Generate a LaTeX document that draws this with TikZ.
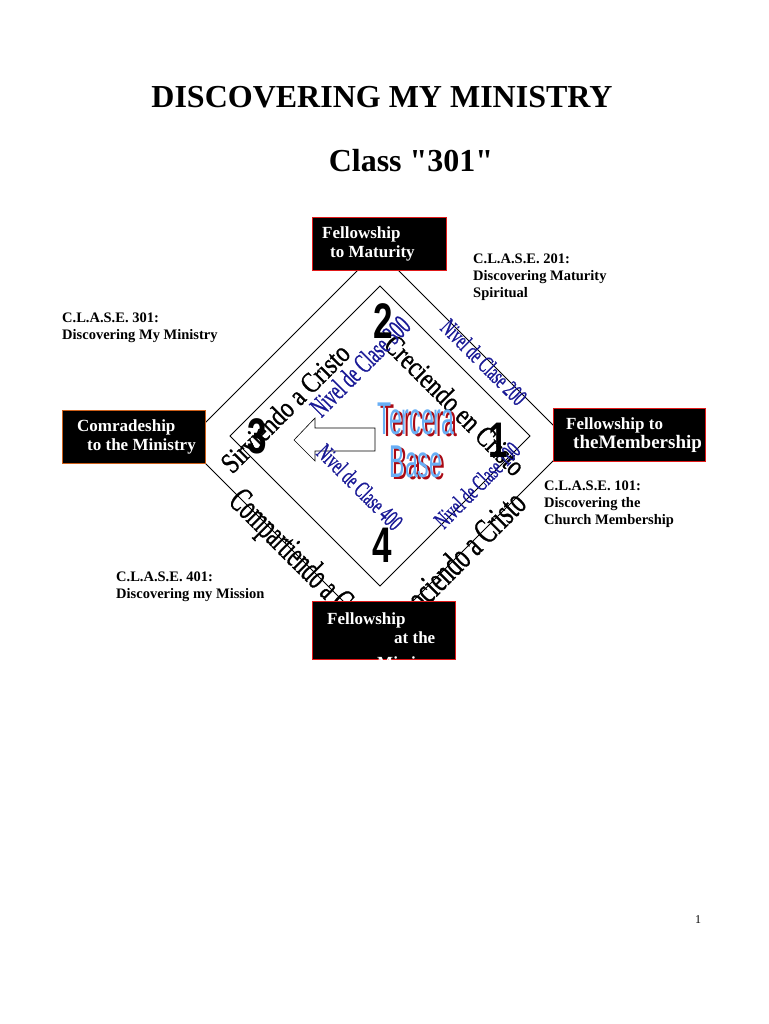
\documentclass[tikz,border=0pt]{standalone}
\usepackage{fontspec}
\setmainfont{Liberation Serif}
\setsansfont{Liberation Sans}
\newfontfamily\plainserif{Liberation Serif}
\newfontfamily\heavyserif[FakeBold=1]{Liberation Serif}
\newfontfamily\numfont[FakeStretch=0.7]{Liberation Sans}
\newfontfamily\wordfont[FakeStretch=0.5]{Liberation Sans}
\usepackage{tikz}
\usetikzlibrary{positioning}
\definecolor{boxred}{RGB}{225,25,25}
\definecolor{boxorange}{RGB}{205,95,25}
\definecolor{levelblue}{RGB}{25,25,150}
\definecolor{wordblue}{RGB}{105,175,245}
\definecolor{wordred}{RGB}{170,10,20}
\tikzstyle{blackbox} = [rectangle, draw=boxred, line width=1.2pt, fill=black, anchor=north west, inner sep=0pt]
\tikzstyle{boxtext} = [text=white, font=\fontsize{17}{19.5}\selectfont\bfseries, align=left, inner sep=0pt]
\tikzstyle{clase} = [font=\fontsize{14.5}{17}\selectfont\bfseries, align=left, anchor=north west, inner sep=0pt]
\tikzstyle{band} = [font=\heavyserif\fontsize{29}{31}\selectfont, inner sep=0pt, xscale=0.8]
\tikzstyle{wideband} = [font=\heavyserif\fontsize{36}{38}\selectfont, inner sep=0pt, xscale=0.6]
\tikzstyle{level} = [font=\heavyserif\fontsize{24}{26}\selectfont, text=levelblue, inner sep=0pt, xscale=0.6]
\tikzstyle{basenum} = [font=\numfont\bfseries\fontsize{50}{52}\selectfont, inner sep=0pt]
\tikzstyle{wordart} = [font=\wordfont\fontsize{46}{43}\selectfont, align=center, inner sep=0pt]
\tikzstyle{diamondline} = [draw=black, line width=0.8pt]
\begin{document}
\begin{tikzpicture}[x=1pt, y=-1pt]
    \useasboundingbox (0,0) rectangle (768,1024);

    % Title
    \node[font=\fontsize{32}{36}\selectfont\bfseries] (title) at (382,97) {DISCOVERING MY MINISTRY};
    \node[font=\plainserif\fontsize{32}{36}\selectfont\bfseries] (classno) at (411,161) {Class "301"};

    % Diamonds
    \coordinate (outtop) at (378,250);
    \coordinate (outright) at (571,443);
    \coordinate (outbot) at (378,636);
    \coordinate (outleft) at (185,443);
    \coordinate (intop) at (380,286);
    \coordinate (inright) at (530,436);
    \coordinate (inbot) at (380,586);
    \coordinate (inleft) at (230,436);
    \draw[diamondline] (outtop) -- (outright) -- (outbot) -- (outleft) -- cycle;
    \draw[diamondline] (intop) -- (inright) -- (inbot) -- (inleft) -- cycle;

    % Arrow to third base
    \draw[fill=white, line width=0.6pt] (294,440) -- (315,418) -- (315,428) -- (375,428)
        -- (375,451) -- (315,451) -- (315,461) -- cycle;

    % Band texts
    \node[rotate=45, band] (serving) at (285,408) {Sirviendo a Cristo};
    \node[rotate=-45, band] (growing) at (455,405) {Creciendo en Cristo};
    \node[rotate=-45, wideband] (sharing) at (303,566) {Compartiendo a Cristo};
    \node[rotate=45, wideband, xscale=1.07] (knowing) at (452,564) {Conociendo a Cristo};

    % Levels
    \node[rotate=-45, level] (lvltwo) at (484,362) {Nivel de Clase 200};
    \node[rotate=45, level] (lvlone) at (477,485) {Nivel de Clase 100};
    \node[rotate=-45, level] (lvlfour) at (360,487) {Nivel de Clase 400};
    \node[rotate=45, level, font=\heavyserif\fontsize{28}{30}\selectfont] (lvlthree) at (360,366) {Nivel de Clase 300};

    % Base numbers
    \node[basenum] (numtwo) at (383,321) {2};
    \node[basenum] (numone) at (498,440) {1};
    \node[basenum] (numthree) at (257,436) {3};
    \node[basenum] (numfour) at (382,545) {4};

    % Tercera Base
    \node[wordart, text=wordred] (baseshadow) at (419,442) {Tercera\\Base};
    \node[wordart, text=wordblue] (basetitle) at (416,440) {Tercera\\Base};

    % Fellowship boxes
    \node[blackbox, minimum width=134pt, minimum height=53pt] (topbox) at (312,217) {};
    \node[blackbox, draw=boxorange, minimum width=143pt, minimum height=53pt] (leftbox) at (62,410) {};
    \node[blackbox, minimum width=152pt, minimum height=53pt] (rightbox) at (553,408) {};
    \node[blackbox, minimum width=143pt, minimum height=58pt] (botbox) at (312,601) {};

    \node[boxtext, right=10pt of topbox.west] (toptext) {Fellowship\\\hspace*{8pt}to Maturity};
    \node[boxtext, right=15pt of leftbox.west] (lefttext) {Comradeship\\\hspace*{10pt}to the Ministry};
    \node[boxtext, right=13pt of rightbox.west] (righttext) {Fellowship to\\\hspace*{7pt}{\fontsize{19}{20}\selectfont theMembership}};
    \begin{scope}
        \clip ([shift={(1.2pt,1.2pt)}]botbox.south west) rectangle ([shift={(-1.2pt,-1.2pt)}]botbox.north east);
        \node[boxtext, below right=11pt and 15pt of botbox.north west] (bottext) {Fellowship\\\hspace*{67pt}at the\\[5pt]\hspace*{50pt}Mission};
    \end{scope}

    % C.L.A.S.E. labels
    \node[clase] (clase201) at (473,254) {C.L.A.S.E. 201:\\Discovering Maturity\\Spiritual};
    \node[clase] (clase301) at (62,313) {C.L.A.S.E. 301:\\Discovering My Ministry};
    \node[clase] (clase101) at (544,481) {C.L.A.S.E. 101:\\Discovering the\\Church Membership};
    \node[clase] (clase401) at (116,572) {C.L.A.S.E. 401:\\Discovering my Mission};

    % Page number
    \node[font=\fontsize{12}{14}\selectfont] (pageno) at (698,920) {1};
\end{tikzpicture}
\end{document}
